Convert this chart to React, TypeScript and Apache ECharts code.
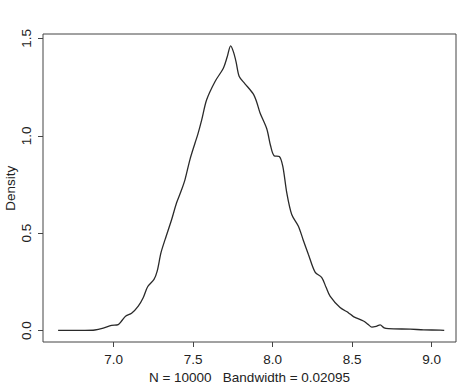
import React, { useEffect, useRef } from "react";
import * as echarts from "echarts";

const densityX = [
  6.651, 6.75, 6.82, 6.882, 6.935, 6.987, 7.029, 7.05, 7.077, 7.113, 7.155, 7.186,
  7.214, 7.254, 7.274, 7.298, 7.324, 7.365, 7.396, 7.428, 7.449, 7.48, 7.512,
  7.529, 7.554, 7.585, 7.638, 7.69, 7.715, 7.736, 7.753, 7.77, 7.79, 7.826,
  7.877, 7.899, 7.921, 7.963, 7.987, 8.009, 8.042, 8.064, 8.089, 8.12, 8.162,
  8.191, 8.225, 8.267, 8.309, 8.336, 8.361, 8.424, 8.476, 8.508, 8.571, 8.6,
  8.624, 8.651, 8.676, 8.701, 8.728, 8.865, 8.95, 9.053, 9.079,
];
const densityY = [
  0.001, 0.001, 0.001, 0.003, 0.013, 0.027, 0.031, 0.049, 0.075, 0.089, 0.126,
  0.169, 0.225, 0.263, 0.305, 0.4, 0.468, 0.57, 0.656, 0.724, 0.775, 0.878,
  0.963, 1.006, 1.082, 1.185, 1.279, 1.347, 1.407, 1.462, 1.432, 1.38, 1.304,
  1.267, 1.216, 1.175, 1.117, 1.036, 0.949, 0.898, 0.894, 0.843, 0.707, 0.596,
  0.536, 0.468, 0.391, 0.3, 0.272, 0.222, 0.177, 0.118, 0.092, 0.072, 0.049,
  0.032, 0.018, 0.022, 0.029, 0.014, 0.01, 0.007, 0.004, 0.002, 0.001,
];
const xTicks = [7.0, 7.5, 8.0, 8.5, 9.0];
const yTicks = [0.0, 0.5, 1.0, 1.5];
const xTitle = "N = 10000   Bandwidth = 0.02095";
const yTitle = "Density";

export default function App() {
  const ref = useRef<HTMLDivElement>(null);
  useEffect(() => {
    if (!ref.current) return;
    const chart = echarts.init(ref.current, null, { renderer: "svg" });
    const font = "'Liberation Sans', Arial, Helvetica, sans-serif";
    const textColor = "#222";
    const fs = 13.5;
    chart.setOption({
      animation: false,
      backgroundColor: "#fff",
      textStyle: { fontFamily: font },
      grid: {
        left: 43,
        right: 18,
        top: 34,
        bottom: 44,
        outerBoundsMode: "none",
        containLabel: false,
        show: true,
        borderColor: "#444",
        borderWidth: 1,
        backgroundColor: "transparent",
      },
      graphic: [
        {
          type: "text",
          x: 10.5,
          y: 188.3,
          rotation: Math.PI / 2,
          style: {
            text: yTitle,
            fontSize: fs,
            fontFamily: font,
            fill: textColor,
            textAlign: "center",
            textVerticalAlign: "middle",
          },
        },
      ],
      xAxis: {
        type: "value",
        min: 6.556,
        max: 9.153,
        name: xTitle,
        nameLocation: "middle",
        nameGap: 27.5,
        nameTextStyle: { fontSize: fs, color: textColor, fontFamily: font },
        axisLine: { show: false, onZero: false },
        axisTick: {
          show: true,
          length: 5,
          customValues: xTicks,
          lineStyle: { color: "#444", width: 1 },
        },
        axisLabel: {
          customValues: xTicks,
          margin: 10,
          fontSize: fs,
          color: textColor,
          fontFamily: font,
          formatter: (v: number) => v.toFixed(1),
        },
        splitLine: { show: false },
      },
      yAxis: {
        type: "value",
        min: -0.0586,
        max: 1.5226,
        axisLine: { show: false, onZero: false },
        axisTick: {
          show: true,
          length: 5,
          customValues: yTicks,
          lineStyle: { color: "#444", width: 1 },
        },
        axisLabel: {
          customValues: yTicks,
          margin: 10,
          rotate: 90,
          fontSize: fs,
          color: textColor,
          fontFamily: font,
          formatter: (v: number) => v.toFixed(1),
        },
        splitLine: { show: false },
      },
      series: [
        {
          type: "line",
          data: densityX.map((x, i) => [x, densityY[i]]),
          smooth: 0.3,
          showSymbol: false,
          symbol: "none",
          lineStyle: { color: "#2a2a2a", width: 1.3 },
        },
      ],
    });
    return () => chart.dispose();
  }, []);
  return (
    <div
      ref={ref}
      style={{ position: "fixed", left: 0, top: 0, width: 474, height: 386, background: "#fff" }}
    />
  );
}
